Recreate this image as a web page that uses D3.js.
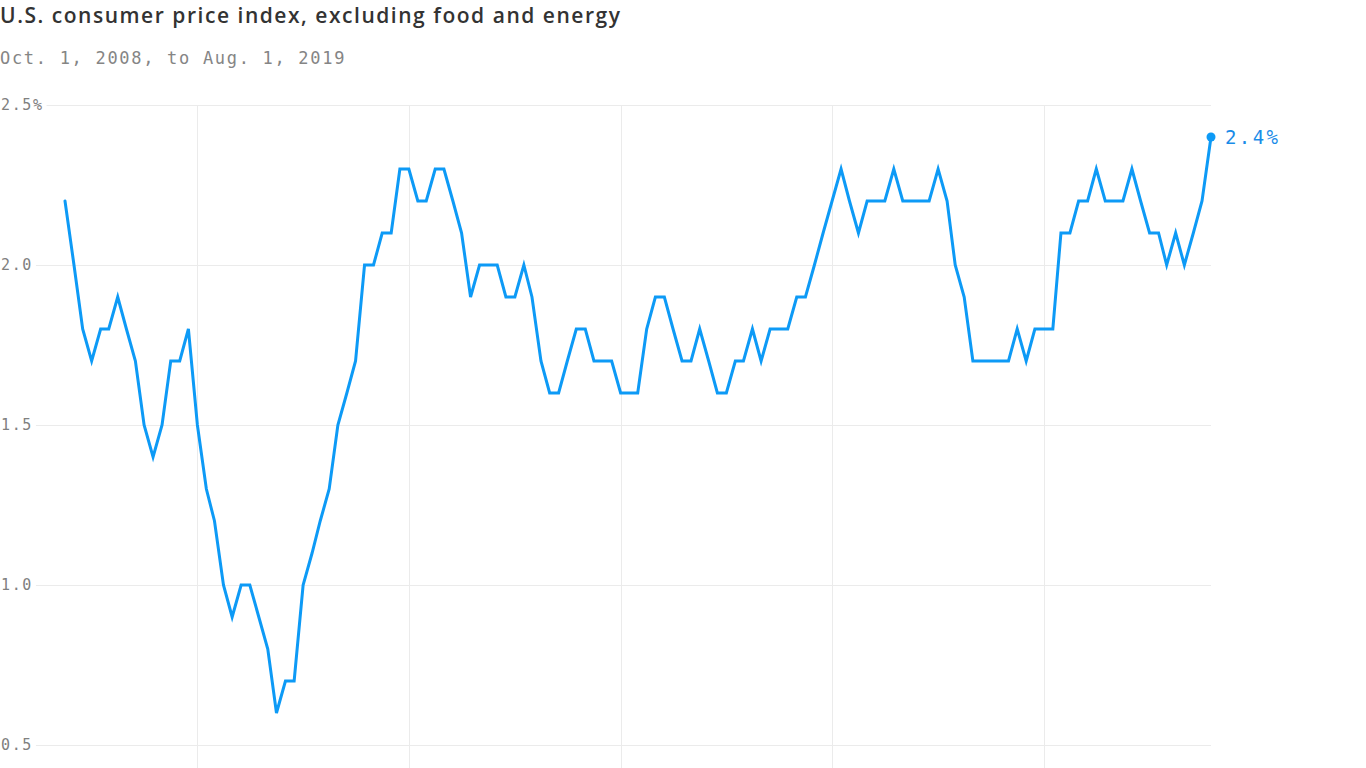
<!DOCTYPE html>
<html>
<head>
<meta charset="utf-8">
<script src="https://cdn.jsdelivr.net/npm/d3@7"></script>
<style>
  html, body { margin: 0; padding: 0; background: #fff; overflow: hidden; }
  svg { display: block; }
</style>
</head>
<body>
<svg id="chart" width="1366" height="768"></svg>
<script>
// ---- Data ----
const startDate = "2008-10-01";
const endDate = "2019-08-01";
const values = [
  2.2, 2.0, 1.8, 1.7, 1.8, 1.8, 1.9, 1.8, 1.7, 1.5, 1.4, 1.5, 1.7, 1.7, 1.8,
  1.5, 1.3, 1.2, 1.0, 0.9, 1.0, 1.0, 0.9, 0.8, 0.6, 0.7, 0.7, 1.0, 1.1, 1.2,
  1.3, 1.5, 1.6, 1.7, 2.0, 2.0, 2.1, 2.1, 2.3, 2.3, 2.2, 2.2, 2.3, 2.3, 2.2,
  2.1, 1.9, 2.0, 2.0, 2.0, 1.9, 1.9, 2.0, 1.9, 1.7, 1.6, 1.6, 1.7, 1.8, 1.8,
  1.7, 1.7, 1.7, 1.6, 1.6, 1.6, 1.8, 1.9, 1.9, 1.8, 1.7, 1.7, 1.8, 1.7, 1.6,
  1.6, 1.7, 1.7, 1.8, 1.7, 1.8, 1.8, 1.8, 1.9, 1.9, 2.0, 2.1, 2.2, 2.3, 2.2,
  2.1, 2.2, 2.2, 2.2, 2.3, 2.2, 2.2, 2.2, 2.2, 2.3, 2.2, 2.0, 1.9, 1.7, 1.7,
  1.7, 1.7, 1.7, 1.8, 1.7, 1.8, 1.8, 1.8, 2.1, 2.1, 2.2, 2.2, 2.3, 2.2, 2.2,
  2.2, 2.3, 2.2, 2.1, 2.1, 2.0, 2.1, 2.0, 2.1, 2.2, 2.4
];
const yTicks = [0.5, 1.0, 1.5, 2.0, 2.5];
const yTickLabels = ["0.5", "1.0", "1.5", "2.0", "2.5%"];
const xTickDates = ["2010-01-01", "2012-01-01", "2014-01-01", "2016-01-01", "2018-01-01"];
const titleText = "U.S. consumer price index, excluding food and energy";
const subtitleText = "Oct. 1, 2008, to Aug. 1, 2019";
const lastLabel = "2.4%";

// ---- Build ----
const parse = d3.utcParse("%Y-%m-%d");
const t0 = parse(startDate);
const data = values.map((v, i) => ({ date: d3.utcMonth.offset(t0, i), value: v }));

const svg = d3.select("#chart");
const mono = "'DejaVu Sans Mono', monospace";
const blue = "#0d9af6";

const x = d3.scaleUtc().domain([t0, parse(endDate)]).range([65, 1211]);
const y = d3.scaleLinear().domain([0.5, 2.5]).range([745, 105]);

// Title (stretched with letter-spacing to the reference width)
const title = svg.append("text")
  .attr("x", 0).attr("y", 23)
  .attr("font-family", "'Open Sans', Roboto, sans-serif")
  .attr("font-weight", 600)
  .attr("font-size", 21)
  .attr("fill", "#333")
  .text(titleText);
{
  const w = title.node().getComputedTextLength();
  const n = titleText.length - 1;
  const ls = (620 - w) / n;
  title.attr("letter-spacing", ls);
}

svg.append("text")
  .attr("x", 0).attr("y", 64)
  .attr("font-family", mono)
  .attr("font-size", 17)
  .attr("letter-spacing", 1.7)
  .attr("fill", "#858585")
  .text(subtitleText);

// Vertical gridlines
svg.append("g")
  .selectAll("line")
  .data(xTickDates.map(parse))
  .join("line")
  .attr("x1", d => Math.round(x(d)) + 0.5)
  .attr("x2", d => Math.round(x(d)) + 0.5)
  .attr("y1", y(2.5))
  .attr("y2", 768)
  .attr("stroke", "#ebebeb")
  .attr("stroke-width", 1);

// Y axis labels + horizontal gridlines
const yg = svg.append("g");
yTicks.forEach((t, i) => {
  const lbl = yg.append("text")
    .attr("x", 1).attr("y", y(t))
    .attr("dy", "0.36em")
    .attr("font-family", mono)
    .attr("font-size", 15)
    .attr("letter-spacing", 1.6)
    .attr("fill", "#808080")
    .text(yTickLabels[i]);
  const w = lbl.node().getComputedTextLength();
  yg.append("line")
    .attr("x1", 1 + w + 3)
    .attr("x2", x.range()[1])
    .attr("y1", Math.round(y(t)) + 0.5)
    .attr("y2", Math.round(y(t)) + 0.5)
    .attr("stroke", "#ebebeb")
    .attr("stroke-width", 1);
});

// Line
const line = d3.line().x(d => x(d.date)).y(d => y(d.value));
svg.append("path")
  .datum(data)
  .attr("d", line)
  .attr("fill", "none")
  .attr("stroke", blue)
  .attr("stroke-width", 3)
  .attr("stroke-linejoin", "miter")
  .attr("stroke-linecap", "round");

// End point
const last = data[data.length - 1];
svg.append("circle")
  .attr("cx", x(last.date))
  .attr("cy", y(last.value))
  .attr("r", 4.5)
  .attr("fill", blue);

svg.append("text")
  .attr("x", x(last.date) + 14)
  .attr("y", y(last.value))
  .attr("dy", "0.36em")
  .attr("font-family", mono)
  .attr("font-size", 19)
  .attr("letter-spacing", 2.4)
  .attr("fill", "#1a8ce8")
  .text(lastLabel);
</script>
</body>
</html>
